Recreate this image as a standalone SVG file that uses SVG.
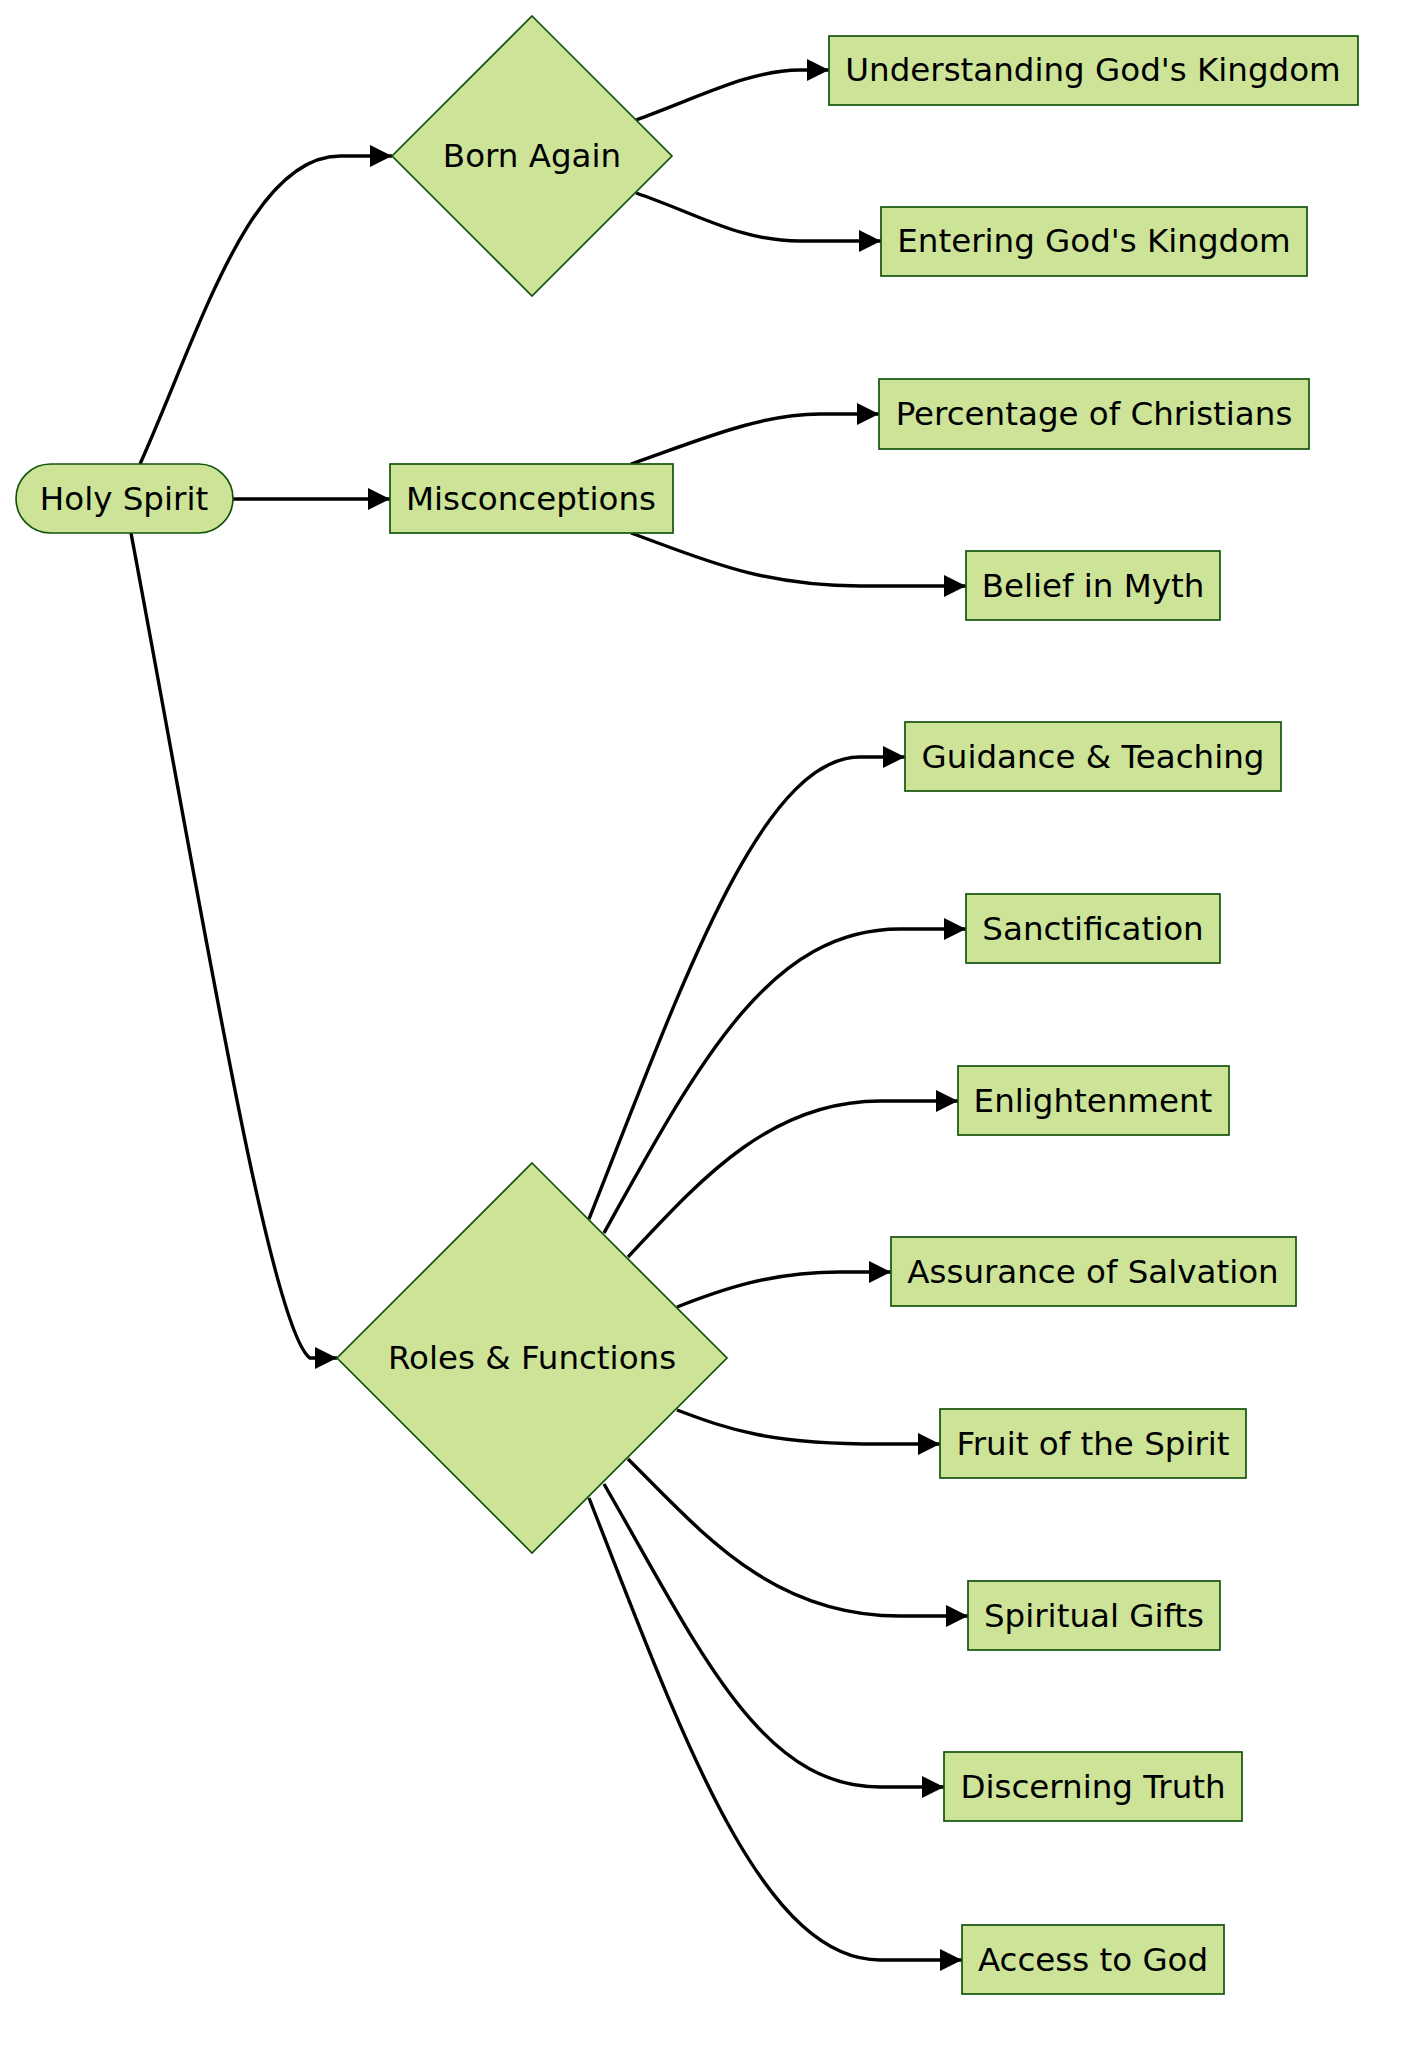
<svg xmlns="http://www.w3.org/2000/svg" width="1401" height="2048" viewBox="0 0 1401 2048">
<style>
.n{fill:#cde498;stroke:#13540c;stroke-width:1.7}
.t{font-family:"DejaVu Sans",sans-serif;font-size:32.5px;fill:#000;text-anchor:middle;dominant-baseline:central}
.e{fill:none;stroke:#000;stroke-width:3.4}
</style>
<defs><marker id="a" viewBox="0 0 10 10" refX="10" refY="5" markerWidth="22" markerHeight="24" markerUnits="userSpaceOnUse" orient="auto"><path d="M0,0L10,5L0,10z" fill="#000"/></marker></defs>
<rect width="1401" height="2048" fill="#fff"/>
<g id="edges">
<path class="e" marker-end="url(#a)" d="M140,464 C200,330 250,156 340,156 L392,156"/>
<path class="e" marker-end="url(#a)" d="M233,499 L390,499"/>
<path class="e" marker-end="url(#a)" d="M131,533 C200,900 270,1330 310,1358 L337,1358"/>
<path class="e" marker-end="url(#a)" d="M636,120 C700,97 750,70 800,70 L829,70"/>
<path class="e" marker-end="url(#a)" d="M636,193 C700,215 740,241 800,241 L881,241"/>
<path class="e" marker-end="url(#a)" d="M631,464 C700,440 760,414 820,414 L879,414"/>
<path class="e" marker-end="url(#a)" d="M631,533 C700,558 760,586 860,586 L966,586"/>
<path class="e" marker-end="url(#a)" d="M589,1219 C680,990 760,757 860,757 L905,757"/>
<path class="e" marker-end="url(#a)" d="M604,1233 C700,1060 770,929 900,929 L966,929"/>
<path class="e" marker-end="url(#a)" d="M628,1257 C700,1180 770,1101 880,1101 L958,1101"/>
<path class="e" marker-end="url(#a)" d="M677,1307 C720,1290 770,1272 840,1272 L891,1272"/>
<path class="e" marker-end="url(#a)" d="M677,1410 C730,1430 770,1444 880,1444 L940,1444"/>
<path class="e" marker-end="url(#a)" d="M628,1459 C700,1530 770,1616 900,1616 L968,1616"/>
<path class="e" marker-end="url(#a)" d="M604,1484 C700,1650 760,1787 880,1787 L944,1787"/>
<path class="e" marker-end="url(#a)" d="M589,1498 C680,1730 760,1960 880,1960 L962,1960"/>
</g>
<g id="holy"><rect class="n" x="16" y="464" width="217" height="69" rx="34.5"/><text class="t" x="124" y="499">Holy Spirit</text></g>
<g id="born"><polygon class="n" points="532,16 672,156 532,296 392,156"/><text class="t" x="532" y="156">Born Again</text></g>
<g id="misc"><rect class="n" x="390" y="464" width="283" height="69"/><text class="t" x="531" y="499">Misconceptions</text></g>
<g id="roles"><polygon class="n" points="532,1163 727,1358 532,1553 337,1358"/><text class="t" x="532" y="1358">Roles &amp; Functions</text></g>
<g id="und"><rect class="n" x="829" y="36" width="529" height="69"/><text class="t" x="1093" y="70">Understanding God's Kingdom</text></g>
<g id="ent"><rect class="n" x="881" y="207" width="426" height="69"/><text class="t" x="1094" y="241">Entering God's Kingdom</text></g>
<g id="pct"><rect class="n" x="879" y="379" width="430" height="70"/><text class="t" x="1094" y="414">Percentage of Christians</text></g>
<g id="bel"><rect class="n" x="966" y="551" width="254" height="69"/><text class="t" x="1093" y="586">Belief in Myth</text></g>
<g id="gui"><rect class="n" x="905" y="722" width="376" height="69"/><text class="t" x="1093" y="757">Guidance &amp; Teaching</text></g>
<g id="san"><rect class="n" x="966" y="894" width="254" height="69"/><text class="t" x="1093" y="929">Sanctification</text></g>
<g id="enl"><rect class="n" x="958" y="1066" width="271" height="69"/><text class="t" x="1093" y="1101">Enlightenment</text></g>
<g id="ass"><rect class="n" x="891" y="1237" width="405" height="69"/><text class="t" x="1093" y="1272">Assurance of Salvation</text></g>
<g id="fru"><rect class="n" x="940" y="1409" width="306" height="69"/><text class="t" x="1093" y="1444">Fruit of the Spirit</text></g>
<g id="spi"><rect class="n" x="968" y="1581" width="252" height="69"/><text class="t" x="1094" y="1616">Spiritual Gifts</text></g>
<g id="dis"><rect class="n" x="944" y="1752" width="298" height="69"/><text class="t" x="1093" y="1787">Discerning Truth</text></g>
<g id="acc"><rect class="n" x="962" y="1925" width="262" height="69"/><text class="t" x="1093" y="1960">Access to God</text></g>
</svg>
